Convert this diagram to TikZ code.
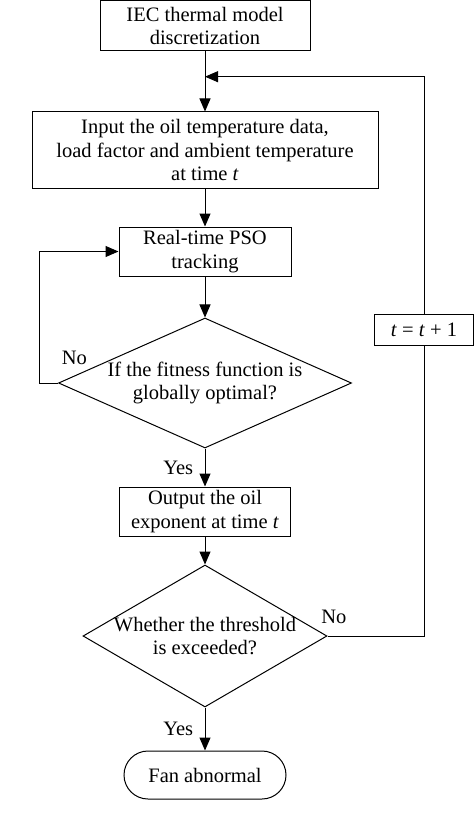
\documentclass[tikz,border=0pt]{standalone}
\usepackage{fontspec}
\setmainfont{Liberation Serif}
\usetikzlibrary{shapes.geometric,arrows.meta,positioning,calc}

\begin{document}
\begin{tikzpicture}[
        node distance=38pt,
        font=\fontsize{20.5}{23.5}\selectfont,
        box/.style={rectangle, draw, line width=1pt, minimum height=49pt, align=center, inner sep=2pt},
        decision/.style={diamond, draw, line width=1pt, align=center, inner sep=0pt},
        terminal/.style={rectangle, draw, line width=1pt, rounded corners=24pt, minimum width=162pt, minimum height=48pt, align=center},
        arrow/.style={-{Triangle[length=13pt,width=11pt]}, line width=1pt},
        line/.style={line width=1pt}
    ]
    \useasboundingbox (0,0) rectangle (474pt,-824pt);

        % Start
        \node[box, minimum width=210pt, minimum height=50pt] (init) at (205pt,-26pt) {IEC thermal model\\discretization};

        % Input data
        \node[box, minimum width=346pt, minimum height=76pt, below=60pt of init] (input) {Input the oil temperature data,\\load factor and ambient temperature\\at time \textit{t}};

        % PSO tracking
        \node[box, minimum width=172pt, below=38pt of input] (pso) {Real-time PSO\\tracking};
        \node[decision, minimum width=293pt, minimum height=130pt, shape aspect=2.25, inner xsep=-5pt, below=41pt of pso] (fit) {If the fitness function is\\globally optimal?};

        % Output
        \node[box, minimum width=171pt, below=38pt of fit] (output) {Output the oil\\exponent at time \textit{t}};
        \node[decision, minimum width=244pt, minimum height=142pt, shape aspect=1.72, inner xsep=-9pt, below=28pt of output] (thr) {Whether the threshold\\is exceeded?};
        \node[terminal, below=43pt of thr] (fan) {Fan abnormal};

        % Time step
        \node[box, minimum width=99pt, minimum height=31pt] (inc) at (424pt,-329.5pt) {\textit{t} = \textit{t} + 1};
        \coordinate (merge) at ($(init.south)!0.42!(input.north)$);

        % Arrows
        \draw[arrow] (init) -- (input);
        \draw[arrow] (input) -- (pso);
        \draw[arrow] (pso) -- (fit);
        \draw[arrow] (fit) -- node[left, xshift=-8pt] {Yes} (output);
        \draw[arrow] (output) -- (thr);
        \draw[arrow] (thr) -- node[left, xshift=-8pt] {Yes} (fan);
        \draw[arrow] (fit.west) node[above right, yshift=14pt] {No} -- ++(-19pt,0) |- (pso.west);
        \draw[line] (thr.east) node[above right, xshift=-10pt, yshift=8pt] {No} -- (thr.east -| inc) -- (inc);
        \draw[arrow] (inc) |- (merge);

    \end{tikzpicture}
\end{document}
